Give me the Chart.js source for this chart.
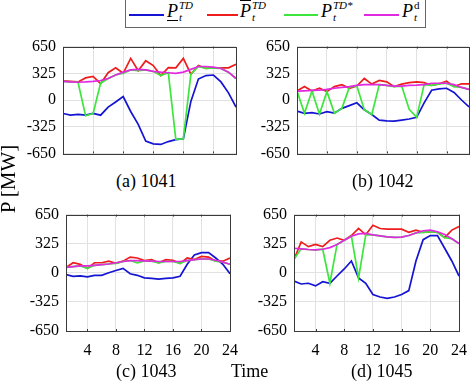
<!DOCTYPE html>
<html>
<head>
<meta charset="utf-8">
<script src="https://cdn.jsdelivr.net/npm/chart.js@4/dist/chart.umd.min.js"></script>
<style>
html,body{margin:0;padding:0;background:#fff;}
#wrap{position:relative;width:474px;height:381px;overflow:hidden;font-family:"Liberation Serif","DejaVu Serif",serif;color:#000;}
canvas{position:absolute;}
.txt{position:absolute;white-space:nowrap;font-size:18px;line-height:18px;}
#legend{position:absolute;left:125px;top:-4px;width:299px;height:30px;border:1px solid #666;background:#fff;}
.ln{position:absolute;height:2px;top:17px;}
.lab{position:absolute;top:4px;font-size:18px;line-height:20px;white-space:nowrap;}
.lab i{font-style:italic;}
.ss{display:inline-flex;flex-direction:column;vertical-align:top;font-size:11px;line-height:11px;margin-left:1px;font-style:italic;}
.ss .up{margin-top:-1px;}
.ss .dn{margin-top:1px;}
#ylab{position:absolute;left:-32px;top:168px;width:80px;text-align:center;font-size:21px;line-height:22px;transform:rotate(-90deg);white-space:nowrap;}
</style>
</head>
<body>
<div id="wrap">
  <canvas id="ca" width="246" height="140" style="left:0px;top:30px;"></canvas>
  <canvas id="cb" width="245" height="140" style="left:234px;top:30px;"></canvas>
  <canvas id="cc" width="248" height="170" style="left:0px;top:198px;"></canvas>
  <canvas id="cd" width="249" height="170" style="left:228px;top:198px;"></canvas>

  <div id="legend">
    <div class="ln" style="left:3px;width:35px;background:#1414d2;"></div>
    <div class="lab" style="left:41px;"><i style="text-decoration:underline;text-underline-offset:3px;">P</i><span class="ss"><span class="up">TD</span><span class="dn">t</span></span></div>
    <div class="ln" style="left:81px;width:31px;background:#ee1c1c;"></div>
    <div class="lab" style="left:114px;"><i style="text-decoration:overline;">P</i><span class="ss"><span class="up">TD</span><span class="dn">t</span></span></div>
    <div class="ln" style="left:158px;width:34px;background:#3ce63c;"></div>
    <div class="lab" style="left:195px;"><i>P</i><span class="ss"><span class="up">TD*</span><span class="dn">t</span></span></div>
    <div class="ln" style="left:238px;width:35px;background:#e229e2;"></div>
    <div class="lab" style="left:276px;"><i>P</i><span class="ss"><span class="up" style="font-style:normal">d</span><span class="dn">t</span></span></div>
  </div>

  <div class="txt" style="left:116px;top:172px;">(a) 1041</div>
  <div class="txt" style="left:352px;top:172px;">(b) 1042</div>
  <div class="txt" style="left:116px;top:362px;">(c) 1043</div>
  <div class="txt" style="left:231px;top:362px;">Time</div>
  <div class="txt" style="left:351px;top:362px;">(d) 1045</div>
  <div id="ylab">P [MW]</div>
</div>
<script>
// ---- data ----
const hours = [1,2,3,4,5,6,7,8,9,10,11,12,13,14,15,16,17,18,19,20,21,22,23,24];
const yTicks = [-650,-325,0,325,650];
const xTicksBottom = [4,8,12,16,20,24];
const xGridTop = [5,9,13,17,21];

// Bus 1041
const lower1041 = [-164,-185,-175,-185,-164,-185,-87,-24,42,-140,-297,-500,-534,-541,-506,-482,-471,-17,255,297,304,220,87,-87];
const upper1041 = [234,227,220,269,286,199,332,391,325,506,356,478,419,297,394,391,506,314,419,384,391,391,391,436];
const star1041  = [227,220,216,-192,-164,205,262,304,325,366,356,366,349,297,332,-482,-471,314,408,384,391,384,339,262];
const dem1041   = [227,220,216,220,227,237,262,304,339,366,373,366,349,339,332,325,339,373,408,408,401,384,339,262];

// Bus 1042
const lower1042 = [-136,-163,-153,-170,-143,-160,-102,-68,-34,-119,-177,-245,-255,-258,-245,-231,-211,-34,119,136,143,92,0,-85];
const upper1042 = [109,163,109,143,102,163,187,143,170,262,194,238,221,163,194,211,221,211,177,197,228,163,197,197];
const star1042  = [109,-163,109,-170,102,-160,-102,155,170,-119,-177,187,177,163,170,-112,-211,187,177,197,204,163,153,129];
const dem1042   = [109,112,116,119,129,143,153,163,177,187,187,187,177,170,170,177,180,187,204,204,204,187,153,129];

// Bus 1043
const lower1043 = [-21,-39,-35,-46,-28,-28,0,25,49,-11,-28,-56,-63,-70,-63,-56,-39,95,200,225,225,165,95,-11];
const upper1043 = [60,112,95,49,112,112,130,105,130,176,165,137,147,112,147,140,105,165,147,183,176,130,130,165];
const star1043  = [60,70,77,49,84,91,98,105,126,137,112,133,130,112,126,126,105,137,147,154,154,130,119,95];
const dem1043   = [60,70,77,77,84,91,98,112,126,137,137,133,130,126,126,126,126,137,147,154,154,140,119,95];

// Bus 1045
const lower1045 = [-93,-125,-117,-146,-100,-117,-36,43,132,-57,-117,-242,-270,-285,-270,-242,-199,132,370,416,416,274,132,-36];
const upper1045 = [150,345,292,317,292,363,388,363,416,495,424,530,495,488,488,488,452,477,452,459,452,392,477,516];
const star1045  = [150,267,260,256,263,-117,317,363,409,-57,424,424,413,402,395,399,416,445,452,459,452,392,381,327];
const dem1045   = [274,267,260,256,263,281,317,363,409,434,441,424,413,402,395,399,416,445,470,477,459,427,381,327];

// ---- drawing ----
const FAMILY = '"Liberation Serif", "Times New Roman", Times, serif';
Chart.defaults.font.family = FAMILY;
Chart.defaults.font.size = 16;
Chart.defaults.color = '#000';

const COL = {lower:'#1414d2', upper:'#ee1c1c', star:'#3ce63c', dem:'#e229e2'};
const FONT = {family:FAMILY, size:16};

const boxPlugin = {
  id:'box',
  afterDatasetsDraw(chart){
    const a = chart.chartArea, ctx = chart.ctx;
    const xs = chart.scales.x;
    ctx.save();
    ctx.strokeStyle = '#3a3a3a';
    ctx.lineWidth = 1;
    xs.ticks.forEach(t=>{
      const px = Math.round(xs.getPixelForValue(t.value))+0.5;
      ctx.beginPath();
      ctx.moveTo(px, a.top); ctx.lineTo(px, a.top+2);
      ctx.moveTo(px, a.bottom); ctx.lineTo(px, a.bottom-2);
      ctx.stroke();
    });
    ctx.strokeRect(Math.round(a.left)+0.5, Math.round(a.top)+0.5, Math.round(a.right-a.left), Math.round(a.bottom-a.top));
    ctx.restore();
  }
};

function ds(label, data, color, order){
  return {label, data: hours.map((h,i)=>({x:h, y:data[i]})), borderColor:color, backgroundColor:color,
          borderWidth:1.7, pointRadius:0, tension:0, fill:false, order};
}

function makeChart(id, lower, upper, star, dem, opts){
  new Chart(document.getElementById(id), {
    type:'line',
    data:{datasets:[
      ds('dem', dem, COL.dem, 0),
      ds('star', star, COL.star, 1),
      ds('upper', upper, COL.upper, 2),
      ds('lower', lower, COL.lower, 3)
    ]},
    plugins:[boxPlugin],
    options:{
      responsive:false, animation:false, events:[],
      layout:{padding:opts.padding},
      plugins:{legend:{display:false}, tooltip:{enabled:false}},
      scales:{
        x:{type:'linear', min:1, max:24,
           afterBuildTicks(s){ s.ticks = opts.xTicks.map(v=>({value:v})); },
           afterFit(s){ s.height = opts.xHeight; },
           grid:{color:'#e2e2e2', lineWidth:1, drawTicks:false},
           border:{display:false},
           ticks:{display:opts.showX, color:'#000', font:FONT, padding:10, maxRotation:0, autoSkip:false}},
        y:{type:'linear', min:-650, max:650,
           afterBuildTicks(s){ s.ticks = yTicks.map(v=>({value:v})); },
           afterFit(s){ s.width = opts.yWidth; },
           grid:{color:'#e2e2e2', lineWidth:1, drawTicks:false},
           border:{display:false},
           ticks:{color:'#000', font:FONT, padding:7}}
      }
    }
  });
}

function drawAll(){
  makeChart('ca', lower1041, upper1041, star1041, dem1041,
    {padding:{top:10,right:10,bottom:6,left:0}, yWidth:63, xHeight:0, showX:false, xTicks:xGridTop});
  makeChart('cb', lower1042, upper1042, star1042, dem1042,
    {padding:{top:10,right:10,bottom:6,left:0}, yWidth:63, xHeight:0, showX:false, xTicks:xGridTop});
  makeChart('cc', lower1043, upper1043, star1043, dem1043,
    {padding:{top:10,right:10,bottom:7,left:0}, yWidth:66, xHeight:30, showX:true, xTicks:xTicksBottom});
  makeChart('cd', lower1045, upper1045, star1045, dem1045,
    {padding:{top:10,right:10,bottom:7,left:0}, yWidth:66, xHeight:30, showX:true, xTicks:xTicksBottom});
}

let drawn = false;
function go(){ if(!drawn){ drawn = true; drawAll(); } }
if (document.fonts && document.fonts.load) {
  document.fonts.load('16px "Liberation Serif"').then(go, go);
  setTimeout(go, 1500);
} else { go(); }
</script>
</body>
</html>
